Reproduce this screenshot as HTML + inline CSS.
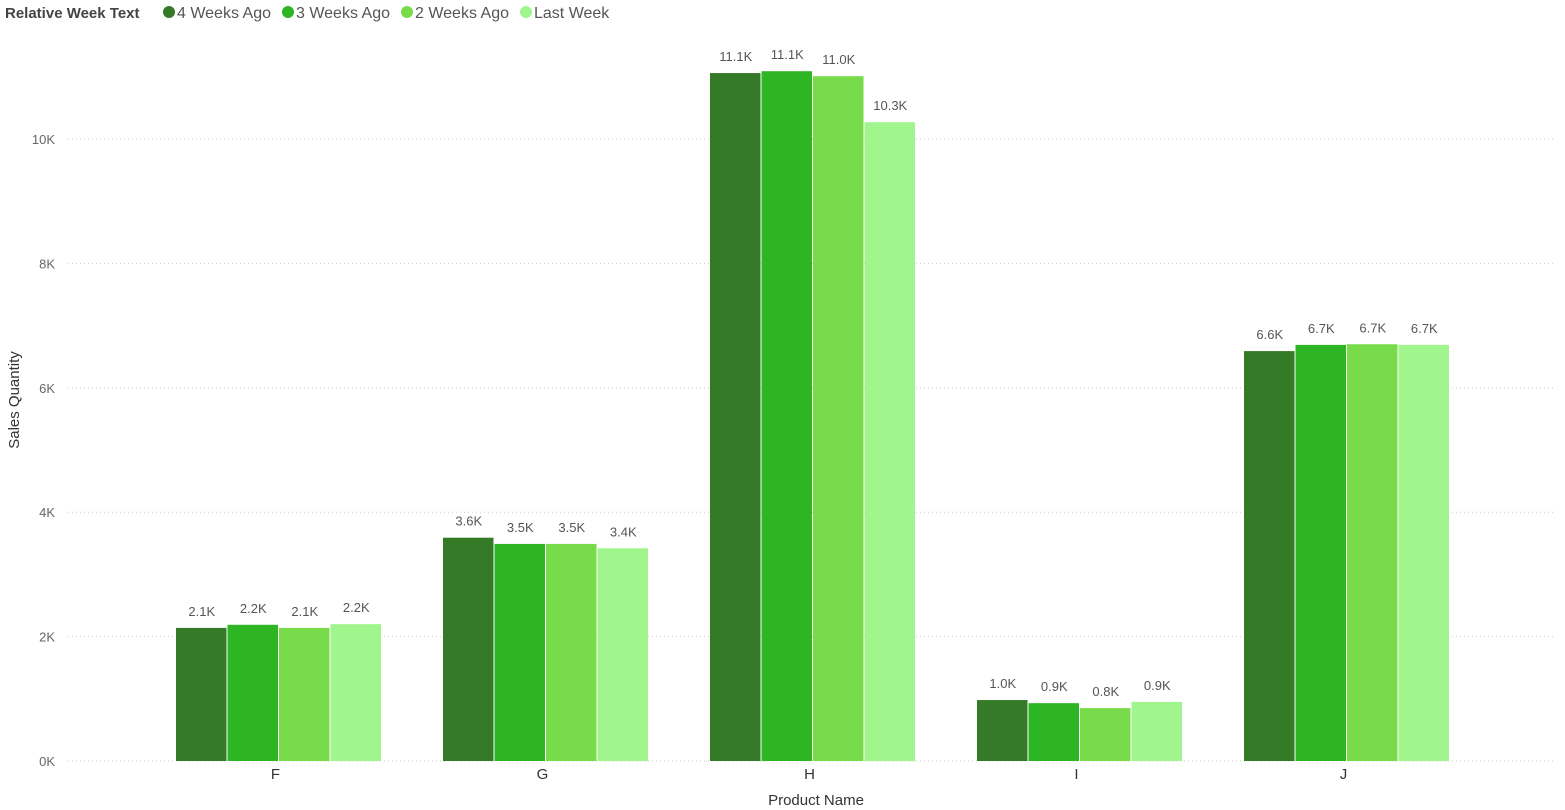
<!DOCTYPE html>
<html><head><meta charset="utf-8"><style>
body{margin:0;background:#fff;font-family:"Liberation Sans",sans-serif;}
svg{display:block}
</style></head><body>
<svg id="chart" width="1565" height="810">
<g id="legend">
<text x="5" y="18" font-size="15" font-weight="bold" fill="#444">Relative Week Text</text>
</g>
<g id="grid"></g>
<g id="yticks"></g>
<g id="bars"></g>
<g id="xticks"></g>
<text x="19" y="400" font-size="15" fill="#333" text-anchor="middle" transform="rotate(-90 19 400)">Sales Quantity</text>
<text x="816" y="805" font-size="15" fill="#333" text-anchor="middle">Product Name</text>
</svg>
<script>
const categories = ["F","G","H","I","J"];
const seriesNames = ["4 Weeks Ago","3 Weeks Ago","2 Weeks Ago","Last Week"];
const weeks4 = [2.14,3.59,11.06,0.98,6.59];
const weeks3 = [2.19,3.49,11.09,0.93,6.69];
const weeks2 = [2.14,3.49,11.01,0.85,6.70];
const lastWeek = [2.20,3.42,10.27,0.95,6.69];
const yTicks = [0,2,4,6,8,10];
const colors = ["#347a27","#2db524","#78db4a","#a0f58c"];
const series = [weeks4,weeks3,weeks2,lastWeek];
const NS="http://www.w3.org/2000/svg";
const y0=761, pxPerK=62.2, xStart=145, band=267, barW=51.5;
const yS=v=>y0-v*pxPerK;
const xC=i=>xStart+band*i+band/2;
function mk(tag,attrs,parent){const e=document.createElementNS(NS,tag);for(const k in attrs)e.setAttribute(k,attrs[k]);parent.appendChild(e);return e;}
const lg=document.getElementById('legend');
let lx=163;
const lw=[119,119,119,95];
seriesNames.forEach((n,i)=>{
 const c=mk('circle',{cx:lx+6,cy:12,r:6,fill:colors[i]},lg);
 
 
 const t=mk('text',{x:lx+14,y:18,'font-size':16,fill:'#555'},lg);t.textContent=n;
 
 
 lx+=lw[i];
});
const gg=document.getElementById('grid'), yt=document.getElementById('yticks');
yTicks.forEach(v=>{
 const l=mk('line',{x1:68,x2:1555,y1:yS(v),y2:yS(v),stroke:'#ccc','stroke-dasharray':'1 3'},gg);
 
 
 const t=mk('text',{x:55,y:yS(v)+5,'font-size':13,fill:'#666','text-anchor':'end'},yt);t.textContent=v+'K';
 
 
});
const bg=document.getElementById('bars'), xt=document.getElementById('xticks');
categories.forEach((c,i)=>{
 const t=mk('text',{x:xC(i)-3,y:779,'font-size':15,fill:'#333','text-anchor':'middle'},xt);t.textContent=c;
 
 
 series.forEach((s,j)=>{
  const x=xC(i)-2*barW+j*barW+0.5;
  const r=mk('rect',{x:x,y:yS(s[i]),width:barW-1,height:y0-yS(s[i]),fill:colors[j]},bg);
  
  
  const lb=mk('text',{x:x+barW/2,y:yS(s[i])-12,'font-size':13,fill:'#555','text-anchor':'middle'},bg);
  lb.textContent=s[i].toFixed(1)+'K';
  
  
 });
});
</script>
</body></html>
